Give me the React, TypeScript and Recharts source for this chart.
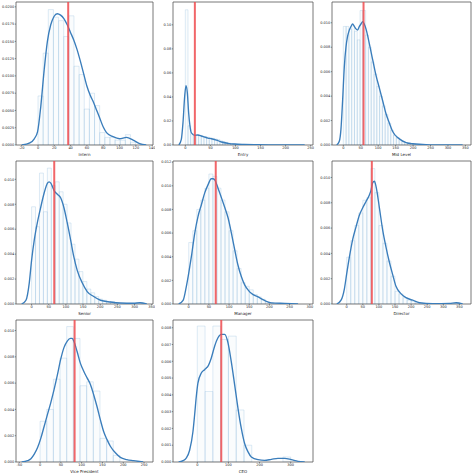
import React from 'react';
import { ComposedChart, Line, XAxis, YAxis, ReferenceLine, ReferenceArea } from 'recharts';

// ---------- Intern ----------
const internKdeX = [-20, -10, -4.6, -0.6, 3.4, 7.5, 11.5, 15.6, 19.6, 23.6, 27.7, 31.7, 35.8, 39.8, 43.8, 47.9, 52, 56, 60, 64, 68, 72, 76, 80, 84, 92, 100, 108.5, 116.6, 124.6, 132.7];
const internKdeY = [0, 0.0003, 0.0009, 0.0019, 0.0056, 0.0108, 0.015, 0.0174, 0.0186, 0.019, 0.0188, 0.0183, 0.0174, 0.0163, 0.0152, 0.0138, 0.0121, 0.0103, 0.0085, 0.0072, 0.0062, 0.005, 0.0038, 0.0026, 0.0018, 0.0012, 0.0009, 0.0011, 0.0007, 0.0002, 0];
const internBinStart = 0;
const internBinWidth = 6.3;
const internBinHeights = [0.0071, 0.0133, 0.0196, 0.0185, 0.018, 0.0157, 0.0187, 0.0114, 0.0102, 0.0052, 0.0075, 0.0057, 0.0018, 0.0011, 0.0011, 0.0007, 0.0007, 0.0015, 0.0004];
const internMean = 37;

// ---------- Entry ----------
const entryKdeX = [-13, -8, -4.7, -1.3, 1.3, 4, 6.6, 9.3, 12, 18.6, 25, 32, 38.6, 45, 52, 62, 72, 85, 98, 118, 145, 178, 211, 238];
const entryKdeY = [0, 0.0047, 0.0185, 0.0406, 0.0494, 0.0434, 0.0268, 0.0157, 0.0102, 0.008, 0.0083, 0.0075, 0.0066, 0.0058, 0.0052, 0.0041, 0.0025, 0.0014, 0.0008, 0.0005, 0.0003, 0.0001, 0, 0];
const entryBinStart = 0;
const entryBinWidth = 5.3;
const entryBinHeights = [0.1125, 0.016, 0.0095, 0.0085, 0.0085, 0.008, 0.0075, 0.007, 0.0065, 0.006, 0.0055, 0.005, 0.0045, 0.0035, 0.0028, 0.0022, 0.0016, 0.0012, 0.001, 0.0008, 0.0006, 0.0005, 0.0004];
const entryMean = 19;

// ---------- Mid Level ----------
const midKdeX = [-19, -11.5, -6.7, -1.9, 2.9, 7.6, 12.4, 17.2, 22, 26.8, 31.6, 36.3, 41, 46, 50.7, 55.5, 60, 65, 74.6, 84, 93.7, 103, 113, 122, 132, 141.5, 160.7, 180, 199, 227.6, 256, 304, 342];
const midKdeY = [0, 0.0003, 0.0013, 0.0037, 0.0064, 0.008, 0.0089, 0.0094, 0.0097, 0.0099, 0.0097, 0.0095, 0.0094, 0.0097, 0.0099, 0.0101, 0.0099, 0.0095, 0.0083, 0.007, 0.0057, 0.0047, 0.0036, 0.0026, 0.0018, 0.0011, 0.0005, 0.0002, 0.0001, 0.00005, 0, 0, 0];
const midBinStart = 0;
const midBinWidth = 8;
const midBinHeights = [0.0097, 0.0097, 0.0095, 0.0098, 0.0093, 0.0086, 0.011, 0.011, 0.009, 0.008, 0.0068, 0.0058, 0.0048, 0.004, 0.0032, 0.0025, 0.0018, 0.0012, 0.0008, 0.0006, 0.0004, 0.0003, 0.0002, 0.0002, 0.0001, 0.0001];
const midMean = 58;

// ---------- Senior ----------
const seniorKdeX = [-29, -16.4, -6.7, 0, 7.7, 17.4, 27, 36.6, 46.3, 51, 56, 65.6, 75, 85, 94.5, 104, 114, 123, 133, 147.5, 162, 181, 200.6, 229.5, 258, 297, 316, 335.6];
const seniorKdeY = [0, 0.0003, 0.0017, 0.0035, 0.0051, 0.0066, 0.0078, 0.0089, 0.0097, 0.0098, 0.0097, 0.0091, 0.0088, 0.0085, 0.0077, 0.0065, 0.0051, 0.0038, 0.0027, 0.0017, 0.001, 0.0006, 0.0003, 0.00016, 0.00008, 0.00006, 0.0001, 0];
const seniorBinStart = 0;
const seniorBinWidth = 11.5;
const seniorBinHeights = [0.0078, 0.0062, 0.0105, 0.0074, 0.0109, 0.0095, 0.0098, 0.009, 0.008, 0.0065, 0.0048, 0.0036, 0.0026, 0.0018, 0.0012, 0.0009, 0.0006, 0.0004, 0.0003, 0.0002, 0.0002, 0.0001];
const seniorMean = 66;

// ---------- Manager ----------
const managerKdeX = [-24.8, -14, -5.8, 0, 6.6, 15, 23, 31.4, 39.7, 48, 56, 60, 64.5, 72.7, 81, 89, 97.5, 105.8, 114, 122, 130.6, 139, 147, 155, 172, 188, 205, 238, 271];
const managerKdeY = [0, 0.0003, 0.0015, 0.0026, 0.004, 0.006, 0.0074, 0.0084, 0.0094, 0.0101, 0.0106, 0.0106, 0.0105, 0.0098, 0.009, 0.0082, 0.0073, 0.006, 0.0046, 0.0033, 0.0023, 0.0016, 0.0012, 0.0009, 0.0006, 0.0003, 0.0001, 0.00005, 0];
const managerBinStart = 0;
const managerBinWidth = 10;
const managerBinHeights = [0.0052, 0.0062, 0.008, 0.0088, 0.0098, 0.011, 0.0108, 0.0098, 0.0088, 0.0078, 0.0062, 0.0045, 0.003, 0.0018, 0.0015, 0.0012, 0.0008, 0.0006, 0.0004, 0.0002, 0.0001];
const managerMean = 67;

// ---------- Director ----------
const directorKdeX = [-31, -17.6, -7.2, 0, 8.3, 18.6, 29, 39, 49.7, 60, 70, 75.6, 80.8, 86, 91, 101.5, 112, 122, 132.5, 143, 153, 169, 184, 205, 226, 267, 319, 340, 360];
const directorKdeY = [0, 0.0003, 0.0012, 0.0024, 0.0037, 0.0051, 0.0061, 0.007, 0.0076, 0.0081, 0.0086, 0.009, 0.0096, 0.0097, 0.0093, 0.0076, 0.0058, 0.0045, 0.0033, 0.0023, 0.0014, 0.0008, 0.0005, 0.0003, 0.0001, 0.00002, 0.00005, 0.0001, 0];
const directorBinStart = 0;
const directorBinWidth = 12.5;
const directorBinHeights = [0.0037, 0.005, 0.0062, 0.0072, 0.0082, 0.0084, 0.0107, 0.0088, 0.0062, 0.0048, 0.0034, 0.0022, 0.001, 0.0008, 0.0005, 0.0003, 0.0002, 0.0001];
const directorMean = 78;

// ---------- Vice President ----------
const vpKdeX = [-44.4, -30, -22, -14, -6, 1.7, 9.7, 17.6, 25.6, 33.6, 41.5, 49.5, 57.4, 65.4, 73, 77, 81, 89, 97, 105, 113, 121, 129, 137, 145, 153, 161, 169, 181, 193, 208.6, 224.5, 248];
const vpKdeY = [0, 0.0001, 0.00025, 0.0006, 0.0011, 0.0018, 0.0027, 0.0036, 0.0045, 0.0055, 0.0066, 0.0078, 0.0087, 0.0092, 0.0094, 0.0094, 0.0092, 0.0084, 0.0075, 0.0069, 0.0064, 0.0059, 0.0051, 0.0042, 0.0032, 0.0023, 0.0017, 0.0012, 0.0007, 0.00035, 0.00018, 0.0001, 0];
const vpBinStart = 0;
const vpBinWidth = 16;
const vpBinHeights = [0.0031, 0.004, 0.0063, 0.0079, 0.0103, 0.0094, 0.0058, 0.0061, 0.0054, 0.0018, 0.0016, 0.0005];
const vpMean = 83;

// ---------- CEO ----------
const ceoKdeX = [-60, -46, -35, -24.6, -14, -8.6, -3.2, 2, 12.9, 23.6, 29, 34, 45, 55.7, 66.4, 77, 82.5, 88, 98.6, 109, 120, 130.7, 141.4, 152, 163, 173.6, 195, 216, 238, 259, 281, 302, 323.6, 345];
const ceoKdeY = [0, 0.00008, 0.00024, 0.0007, 0.0018, 0.0028, 0.0039, 0.0047, 0.0053, 0.0055, 0.0056, 0.0057, 0.0062, 0.0069, 0.0074, 0.0076, 0.0076, 0.0076, 0.0071, 0.006, 0.0046, 0.0032, 0.002, 0.0011, 0.0006, 0.0003, 0.00014, 0.0001, 0.00016, 0.00022, 0.00022, 0.00014, 0.00004, 0];
const ceoBinStart = 0;
const ceoBinWidth = 25;
const ceoBinHeights = [0.0081, 0.0042, 0.0081, 0.0073, 0.0075, 0.0031, 0.001, 0, 0, 0, 0, 0.0003];
const ceoMean = 77;

// ---------- axis ticks ----------
const internXTicks = [-20, 0, 20, 40, 60, 80, 100, 120, 140];
const internYTicks = [0, 0.0025, 0.005, 0.0075, 0.01, 0.0125, 0.015, 0.0175, 0.02];
const entryXTicks = [0, 50, 100, 150, 200, 250];
const entryYTicks = [0, 0.02, 0.04, 0.06, 0.08, 0.1];
const midXTicks = [0, 50, 100, 150, 200, 250, 300, 350];
const midYTicks = [0, 0.002, 0.004, 0.006, 0.008, 0.01];
const seniorXTicks = [0, 50, 100, 150, 200, 250, 300, 350];
const seniorYTicks = [0, 0.002, 0.004, 0.006, 0.008, 0.01];
const managerXTicks = [0, 50, 100, 150, 200, 250, 300];
const managerYTicks = [0, 0.002, 0.004, 0.006, 0.008, 0.01, 0.012];
const directorXTicks = [0, 50, 100, 150, 200, 250, 300, 350];
const directorYTicks = [0, 0.002, 0.004, 0.006, 0.008, 0.01];
const vpXTicks = [-50, 0, 50, 100, 150, 200, 250];
const vpYTicks = [0, 0.002, 0.004, 0.006, 0.008, 0.01];
const ceoXTicks = [0, 100, 200, 300];
const ceoYTicks = [0, 0.001, 0.002, 0.003, 0.004, 0.005, 0.006, 0.007, 0.008];

const Y_AXIS_W = 15;
const TOP = 2;
const RIGHT = 2;
const X_AXIS_H = 12;

type PanelProps = {
  name: string;
  kdeX: number[];
  kdeY: number[];
  binStart: number;
  binWidth: number;
  binHeights: number[];
  mean: number;
  xDomain: [number, number];
  xTicks: number[];
  yDomain: [number, number];
  yTicks: number[];
  yDigits: number;
  left: number;
  top: number;
  plotW: number;
  plotH: number;
};

function Panel(p: PanelProps) {
  const kde = p.kdeX.map((x, i) => ({ x, y: p.kdeY[i] }));
  const W = Y_AXIS_W + p.plotW + RIGHT;
  const H = TOP + p.plotH + X_AXIS_H;
  const tickStyle = { fontSize: 3.5, fill: '#222' };
  return (
    <div style={{ position: 'absolute', left: p.left - Y_AXIS_W, top: p.top - TOP }}>
      <ComposedChart width={W} height={H} data={kde} margin={{ top: TOP, right: RIGHT, left: 0, bottom: 0 }}>
        <XAxis
          dataKey="x"
          type="number"
          domain={p.xDomain}
          ticks={p.xTicks}
          allowDataOverflow
          interval={0}
          height={X_AXIS_H}
          tickSize={1.2}
          tickMargin={0.8}
          tick={tickStyle}
          axisLine={false}
          tickLine={{ stroke: '#444', strokeWidth: 0.6 }}
          label={{ value: p.name, position: 'insideBottom', offset: 1.5, fontSize: 4, fill: '#222' }}
        />
        <YAxis
          type="number"
          domain={p.yDomain}
          ticks={p.yTicks}
          allowDataOverflow
          interval={0}
          width={Y_AXIS_W}
          tickSize={1.2}
          tickMargin={0.6}
          tick={tickStyle}
          axisLine={false}
          tickLine={{ stroke: '#444', strokeWidth: 0.6 }}
          tickFormatter={(v: number) => v.toFixed(p.yDigits)}
        />
        {p.binHeights.map((h, i) =>
          h > 0 ? (
            <ReferenceArea
              key={i}
              x1={p.binStart + i * p.binWidth}
              x2={p.binStart + (i + 1) * p.binWidth}
              y1={0}
              y2={h}
              fill="#1f77b4"
              fillOpacity={0.025}
              stroke="#7fb3dc"
              strokeOpacity={0.5}
              strokeWidth={0.5}
              ifOverflow="hidden"
            />
          ) : null
        )}
        <Line
          dataKey="y"
          type="monotone"
          stroke="#3a7dbb"
          strokeWidth={1.35}
          dot={false}
          activeDot={false}
          isAnimationActive={false}
        />
        <ReferenceLine x={p.mean} stroke="#ef4b4f" strokeWidth={2} strokeOpacity={0.85} />
        <ReferenceArea
          x1={p.xDomain[0]}
          x2={p.xDomain[1]}
          y1={p.yDomain[0]}
          y2={p.yDomain[1]}
          fill="none"
          stroke="#555"
          strokeWidth={0.8}
          ifOverflow="visible"
        />
      </ComposedChart>
    </div>
  );
}

const COL_LEFT = [16, 173, 332];
const COL_W = [137, 140, 139];
const ROW_TOP = [2, 161, 320];
const ROW_H = [143, 143, 142];

export default function App() {
  const pos = (r: number, c: number) => ({ left: COL_LEFT[c], top: ROW_TOP[r], plotW: COL_W[c], plotH: ROW_H[r] });
  return (
    <div style={{ position: 'absolute', left: 0, top: 0, width: 474, height: 474, background: '#fff', fontFamily: 'DejaVu Sans' }}>
      <Panel name="Intern" kdeX={internKdeX} kdeY={internKdeY} binStart={internBinStart} binWidth={internBinWidth} binHeights={internBinHeights} mean={internMean}
        xDomain={[-27, 141]} xTicks={internXTicks} yDomain={[0, 0.0207]} yTicks={internYTicks} yDigits={4} {...pos(0, 0)} />
      <Panel name="Entry" kdeX={entryKdeX} kdeY={entryKdeY} binStart={entryBinStart} binWidth={entryBinWidth} binHeights={entryBinHeights} mean={entryMean}
        xDomain={[-24.6, 254.6]} xTicks={entryXTicks} yDomain={[0, 0.119]} yTicks={entryYTicks} yDigits={2} {...pos(0, 1)} />
      <Panel name="Mid Level" kdeX={midKdeX} kdeY={midKdeY} binStart={midBinStart} binWidth={midBinWidth} binHeights={midBinHeights} mean={midMean}
        xDomain={[-32.4, 366]} xTicks={midXTicks} yDomain={[0, 0.0117]} yTicks={midYTicks} yDigits={3} {...pos(0, 2)} />
      <Panel name="Senior" kdeX={seniorKdeX} kdeY={seniorKdeY} binStart={seniorBinStart} binWidth={seniorBinWidth} binHeights={seniorBinHeights} mean={seniorMean}
        xDomain={[-45.4, 353.8]} xTicks={seniorXTicks} yDomain={[0, 0.01147]} yTicks={seniorYTicks} yDigits={3} {...pos(1, 0)} />
      <Panel name="Manager" kdeX={managerKdeX} kdeY={managerKdeY} binStart={managerBinStart} binWidth={managerBinWidth} binHeights={managerBinHeights} mean={managerMean}
        xDomain={[-38.9, 308]} xTicks={managerXTicks} yDomain={[0, 0.0121]} yTicks={managerYTicks} yDigits={3} {...pos(1, 1)} />
      <Panel name="Director" kdeX={directorKdeX} kdeY={directorKdeY} binStart={directorBinStart} binWidth={directorBinWidth} binHeights={directorBinHeights} mean={directorMean}
        xDomain={[-45.7, 386]} xTicks={directorXTicks} yDomain={[0, 0.0113]} yTicks={directorYTicks} yDigits={3} {...pos(1, 2)} />
      <Panel name="Vice President" kdeX={vpKdeX} kdeY={vpKdeY} binStart={vpBinStart} binWidth={vpBinWidth} binHeights={vpBinHeights} mean={vpMean}
        xDomain={[-57.9, 271.5]} xTicks={vpXTicks} yDomain={[0, 0.0108]} yTicks={vpYTicks} yDigits={3} {...pos(2, 0)} />
      <Panel name="CEO" kdeX={ceoKdeX} kdeY={ceoKdeY} binStart={ceoBinStart} binWidth={ceoBinWidth} binHeights={ceoBinHeights} mean={ceoMean}
        xDomain={[-78, 371.6]} xTicks={ceoXTicks} yDomain={[0, 0.00846]} yTicks={ceoYTicks} yDigits={3} {...pos(2, 1)} />
    </div>
  );
}
